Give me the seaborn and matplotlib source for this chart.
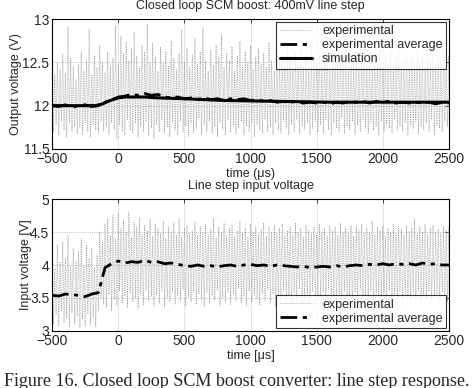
import numpy as np
import pandas as pd
import matplotlib
matplotlib.use("Agg")
import matplotlib.pyplot as plt
import seaborn as sns

# ---------------- data ----------------
# top panel: output voltage, experimental ripple peaks (t = -500 + 20 i) and troughs (t = -490 + 20 i)
out_hi = [
    12.82, 12.35, 12.50, 12.42, 12.60, 12.38, 12.91, 12.55, 12.45, 12.30,
    12.48, 12.62, 12.40, 12.52, 12.88, 12.36, 12.58, 12.44, 12.70, 12.50,
    12.38, 12.62, 12.46, 12.55, 12.92, 12.48, 12.80, 12.60, 12.74, 12.52,
    12.66, 12.85, 12.58, 12.45, 12.70, 12.62, 12.94, 12.50, 12.72, 12.56,
    12.40, 12.68, 12.50, 12.62, 12.46, 12.75, 12.55, 12.42, 12.60, 12.88,
    12.50, 12.66, 12.44, 12.58, 12.78, 12.48, 12.62, 12.90, 12.52, 12.40,
    12.64, 12.46, 12.70, 12.56, 12.82, 12.44, 12.60, 12.52, 12.68, 12.40,
    12.58, 12.74, 12.46, 12.62, 12.50, 12.70, 12.42, 12.56, 12.66, 12.48,
    12.60, 12.44, 12.72, 12.52, 12.40, 12.64, 12.50, 12.58, 12.46, 12.68,
    12.54, 12.42, 12.62, 12.50, 12.70, 12.46, 12.56, 12.40, 12.64, 12.52,
    12.48, 12.60, 12.44, 12.58, 12.66, 12.42, 12.54, 12.62, 12.46, 12.56,
    12.50, 12.64, 12.40, 12.58, 12.48, 12.62, 12.44, 12.56, 12.68, 12.46,
    12.54, 12.42, 12.60, 12.50, 12.64, 12.44, 12.58, 12.48, 12.62, 12.40,
    12.56, 12.66, 12.46, 12.54, 12.60, 12.42, 12.58, 12.50, 12.64, 12.48,
    12.56, 12.44, 12.62, 12.50, 12.58, 12.46, 12.60, 12.52, 12.66, 12.44,
    12.58,
]
out_lo = [
    11.70, 11.78, 11.66, 11.82, 11.72, 11.64, 11.80, 11.70, 11.76, 11.68,
    11.74, 11.66, 11.80, 11.70, 11.64, 11.78, 11.72, 11.68, 11.82, 11.70,
    11.76, 11.66, 11.80, 11.72, 11.62, 11.78, 11.70, 11.66, 11.84, 11.72,
    11.68, 11.80, 11.64, 11.76, 11.70, 11.82, 11.66, 11.74, 11.62, 11.78,
    11.70, 11.84, 11.68, 11.76, 11.64, 11.80, 11.72, 11.66, 11.82, 11.70,
    11.76, 11.64, 11.80, 11.68, 11.74, 11.86, 11.66, 11.78, 11.70, 11.82,
    11.68, 11.76, 11.64, 11.80, 11.72, 11.66, 11.84, 11.70, 11.78, 11.68,
    11.74, 11.82, 11.66, 11.76, 11.70, 11.80, 11.64, 11.78, 11.72, 11.68,
    11.84, 11.70, 11.76, 11.66, 11.80, 11.72, 11.68, 11.82, 11.74, 11.66,
    11.78, 11.70, 11.84, 11.68, 11.76, 11.72, 11.80, 11.66, 11.74, 11.82,
    11.70, 11.78, 11.68, 11.84, 11.72, 11.66, 11.80, 11.74, 11.70, 11.86,
    11.68, 11.76, 11.72, 11.82, 11.66, 11.78, 11.70, 11.84, 11.74, 11.68,
    11.80, 11.72, 11.76, 11.66, 11.82, 11.70, 11.78, 11.74, 11.68, 11.84,
    11.72, 11.76, 11.70, 11.80, 11.66, 11.78, 11.74, 11.82, 11.68, 11.76,
    11.72, 11.80, 11.70, 11.84, 11.66, 11.78, 11.74, 11.70, 11.82, 11.76,
    11.72,
]
# experimental average, every 50 us from -500
out_avg = [
    12.00, 11.99, 12.01, 11.98, 12.00, 12.01, 11.99, 12.00, 12.04, 12.07,
    12.10, 12.11, 12.13, 12.12, 12.14, 12.12, 12.13, 12.10, 12.09, 12.10,
    12.08, 12.09, 12.07, 12.09, 12.07, 12.08, 12.06, 12.08, 12.07, 12.08,
    12.06, 12.07, 12.05, 12.06, 12.04, 12.05, 12.04, 12.05, 12.03, 12.04,
    12.03, 12.04, 12.02, 12.04, 12.03, 12.05, 12.04, 12.05, 12.03, 12.05,
    12.04, 12.05, 12.03, 12.04, 12.03, 12.04, 12.03, 12.04, 12.02, 12.04,
    12.03,
]
sim_t = [-500, -170, -120, -60, 0, 50, 100, 200, 300, 500, 800, 1200, 1600, 2000, 2500]
sim_v = [12.00, 12.00, 12.02, 12.06, 12.09, 12.10, 12.10, 12.10, 12.09, 12.08, 12.06, 12.05, 12.04, 12.04, 12.04]

# bottom panel: input voltage
in_hi = [
    4.40, 3.95, 4.30, 4.05, 4.35, 4.10, 4.45, 3.98, 4.25, 4.05,
    4.20, 4.40, 4.00, 4.30, 4.10, 4.25, 3.95, 4.15,
    4.50, 4.35, 4.62, 4.70, 4.45, 4.75, 4.40, 4.78, 4.55, 4.68,
    4.50, 4.80, 4.42, 4.65, 4.58, 4.72, 4.46, 4.60, 4.52, 4.70,
    4.44, 4.62, 4.55, 4.48, 4.66, 4.40, 4.58, 4.50, 4.64, 4.46,
    4.70, 4.42, 4.56, 4.60, 4.48, 4.52, 4.66, 4.44, 4.58, 4.50,
    4.62, 4.46, 4.54, 4.70, 4.42, 4.58, 4.50, 4.64, 4.46, 4.56,
    4.60, 4.44, 4.52, 4.66, 4.48, 4.56, 4.42, 4.62, 4.50, 4.58,
    4.46, 4.54, 4.64, 4.44, 4.58, 4.50, 4.60, 4.48, 4.56, 4.62,
    4.44, 4.52, 4.58, 4.46, 4.64, 4.50, 4.56, 4.42, 4.60, 4.52,
    4.48, 4.58, 4.46, 4.62, 4.50, 4.56, 4.44, 4.60, 4.52, 4.58,
    4.46, 4.64, 4.50, 4.56, 4.48, 4.60, 4.44, 4.58, 4.52, 4.62,
    4.48, 4.56, 4.50, 4.66, 4.46, 4.58, 4.52, 4.60, 4.44, 4.56,
    4.50, 4.62, 4.48, 4.58, 4.54, 4.46, 4.60, 4.52, 4.56, 4.70,
    4.48, 4.58, 4.50, 4.62, 4.46, 4.56, 4.60, 4.50, 4.54, 4.48,
    4.58, 4.52, 4.56,
]
in_lo = [
    3.10, 3.25, 3.08, 3.30, 3.12, 3.20, 3.06, 3.28, 3.10, 3.22,
    3.05, 3.18, 3.08, 3.26, 3.10, 3.20, 3.06, 3.30,
    3.50, 3.40, 3.35, 3.55, 3.30, 3.48, 3.38, 3.60, 3.42, 3.52,
    3.36, 3.58, 3.44, 3.50, 3.34, 3.56, 3.40, 3.62, 3.46, 3.52,
    3.38, 3.55, 3.42, 3.60, 3.36, 3.50, 3.44, 3.58, 3.40, 3.54,
    3.46, 3.62, 3.38, 3.52, 3.44, 3.60, 3.40, 3.56, 3.48, 3.36,
    3.58, 3.42, 3.54, 3.46, 3.62, 3.38, 3.50, 3.44, 3.58, 3.40,
    3.56, 3.46, 3.64, 3.42, 3.52, 3.38, 3.60, 3.44, 3.54, 3.48,
    3.40, 3.58, 3.46, 3.62, 3.42, 3.56, 3.38, 3.52, 3.48, 3.60,
    3.44, 3.54, 3.40, 3.58, 3.46, 3.64, 3.42, 3.50, 3.56, 3.44,
    3.60, 3.40, 3.52, 3.48, 3.58, 3.42, 3.62, 3.46, 3.54, 3.40,
    3.56, 3.48, 3.60, 3.44, 3.52, 3.38, 3.58, 3.46, 3.62, 3.42,
    3.54, 3.48, 3.60, 3.40, 3.56, 3.44, 3.52, 3.58, 3.46, 3.62,
    3.42, 3.54, 3.48, 3.60, 3.40, 3.56, 3.50, 3.44, 3.58, 3.46,
    3.62, 3.42, 3.54, 3.48, 3.60, 3.44, 3.52, 3.56, 3.46, 3.58,
    3.50, 3.44, 3.60,
]
in_avg = [
    3.54, 3.53, 3.56, 3.55, 3.54, 3.52, 3.56, 3.58, 3.96, 4.02,
    4.06, 4.03, 4.05, 4.04, 4.07, 4.04, 4.05, 4.02, 4.03, 4.01,
    3.99, 3.98, 4.00, 3.98, 3.99, 3.97, 3.99, 4.00, 3.98, 4.00,
    4.01, 3.99, 4.00, 3.98, 4.00, 3.99, 3.98, 3.97, 3.98, 3.96,
    3.97, 3.98, 3.97, 3.99, 3.97, 3.99, 4.00, 3.99, 4.01, 4.00,
    4.02, 4.00, 4.02, 4.01, 4.02, 4.00, 4.03, 4.01, 4.02, 4.00,
    4.00,
]

x_ticks = [-500, 0, 500, 1000, 1500, 2000, 2500]
x_labels = ["\u2212500", "0", "500", "1000", "1500", "2000", "2500"]


def ripple_frame(hi, lo):
    t_hi = [-500 + 20 * i for i in range(len(hi))]
    t_lo = [-490 + 20 * i for i in range(len(lo))]
    t = []
    v = []
    for a, b, c, d in zip(t_hi, hi, t_lo, lo):
        t += [a, c]
        v += [b, d]
    return pd.DataFrame({"t": t, "v": v})


def avg_frame(vals):
    return pd.DataFrame({"t": [-500 + 50 * i for i in range(len(vals))], "v": vals})


# ---------------- style ----------------
sns.set_style("white")
plt.rcParams["font.family"] = ["Liberation Sans", "DejaVu Sans"]
plt.rcParams["xtick.direction"] = "in"
plt.rcParams["ytick.direction"] = "in"

fig = plt.figure(figsize=(4.74, 3.88), dpi=100)
ax1 = fig.add_axes([0.110, 0.616, 0.837, 0.335])
ax2 = fig.add_axes([0.110, 0.147, 0.837, 0.340])

exp_kw = dict(color="#9a9a9a", linestyle=(0, (1, 1.3)), linewidth=0.55)
avg_kw = dict(color="black", linestyle=(0, (6, 2, 1.5, 2)), linewidth=2.0)

# top
sns.lineplot(data=ripple_frame(out_hi, out_lo), x="t", y="v", ax=ax1, estimator=None,
             sort=False, label="experimental", **exp_kw)
sns.lineplot(data=avg_frame(out_avg), x="t", y="v", ax=ax1, estimator=None,
             label="experimental average", **avg_kw)
sns.lineplot(x=sim_t, y=sim_v, ax=ax1, color="black", linewidth=2.2, label="simulation")
ax1.set_xlim(-500, 2500)
ax1.set_ylim(11.5, 13)
ax1.set_yticks([11.5, 12, 12.5, 13])
ax1.set_yticklabels(["11.5", "12", "12.5", "13"])
ax1.set_title("Closed loop SCM boost: 400mV line step", fontsize=9, pad=7)
ax1.set_xlabel("time (\u03bcs)", fontsize=9, labelpad=1)
ax1.set_ylabel("Output voltage (V)", fontsize=9)
ax1.yaxis.set_label_coords(-0.075, 0.5)
leg1 = ax1.legend(loc="upper right", fontsize=9, frameon=True, fancybox=False,
                  edgecolor="black", handlelength=2.6, borderpad=0.3, labelspacing=0.15,
                  borderaxespad=0.2)
leg1.get_frame().set_linewidth(0.8)

# bottom
sns.lineplot(data=ripple_frame(in_hi, in_lo), x="t", y="v", ax=ax2, estimator=None,
             sort=False, label="experimental", **exp_kw)
sns.lineplot(data=avg_frame(in_avg), x="t", y="v", ax=ax2, estimator=None,
             label="experimental average", **avg_kw)
ax2.set_xlim(-500, 2500)
ax2.set_ylim(3, 5)
ax2.set_yticks([3, 3.5, 4, 4.5, 5])
ax2.set_yticklabels(["3", "3.5", "4", "4.5", "5"])
ax2.set_title("Line step input voltage", fontsize=9, pad=7)
ax2.set_xlabel("time [\u03bcs]", fontsize=9, labelpad=1)
ax2.set_ylabel("Input voltage [V]", fontsize=9)
ax2.yaxis.set_label_coords(-0.052, 0.5)
leg2 = ax2.legend(loc="lower right", fontsize=9, frameon=True, fancybox=False,
                  edgecolor="black", handlelength=2.6, borderpad=0.3, labelspacing=0.15,
                  borderaxespad=0.2)
leg2.get_frame().set_linewidth(0.8)

for ax in (ax1, ax2):
    ax.set_xticks(x_ticks)
    ax.set_xticklabels(x_labels)
    ax.tick_params(labelsize=10, top=True, right=True, length=3, width=0.6)
    ax.tick_params(axis="x", pad=2.5)
    ax.tick_params(axis="y", pad=2)
    ax.grid(True, color="#888888", linestyle=(0, (1, 2)), linewidth=0.5)
    for s in ax.spines.values():
        s.set_visible(True)
        s.set_color("black")
        s.set_linewidth(0.8)

fig.text(0.008, 0.016, "Figure 16. Closed loop SCM boost converter: line step response.",
         ha="left", va="center", fontsize=13,
         family=["Liberation Serif", "DejaVu Serif"])

fig.savefig("out.png", dpi=100)
